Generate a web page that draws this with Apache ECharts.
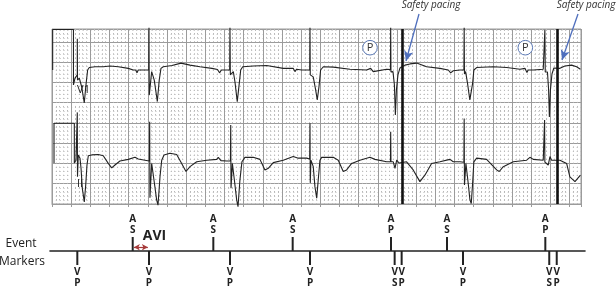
<!DOCTYPE html>
<html>
<head>
<meta charset="utf-8">
<script src="https://cdn.jsdelivr.net/npm/echarts@6/dist/echarts.min.js"></script>
<style>
html, body { margin: 0; padding: 0; background: #fff; }
#chart { width: 616px; height: 288px; }
</style>
</head>
<body>
<div id="chart"></div>
<script>
// time in seconds (25 mm/s paper), amplitude in mV relative to each lead's baseline
var v1Trace = [
  [0.007,0],[0.007,1.0],[0.224,1.0],[0.224,-0.37],[0.240,-0.20],[0.264,-0.12],[0.264,0.77],[0.266,-0.25],[0.285,-0.20],[0.310,-0.42],[0.337,-0.81],[0.352,-0.42],[0.372,0],[0.389,0.06],[0.449,0.08],[0.535,0.08],[0.605,0.10],[0.692,0.08],[0.796,0.04],[0.848,0],[0.873,0],[0.887,-0.07],[0.900,0],[0.970,0],
  [1.009,0],[1.012,1.04],[1.015,-0.62],[1.040,-0.04],[1.067,-0.25],[1.092,-0.66],[1.099,-0.78],[1.119,-0.25],[1.137,0.04],[1.161,0.08],[1.252,0.11],[1.346,0.17],[1.440,0.12],[1.544,0.08],[1.669,0.04],[1.727,0.01],[1.748,-0.07],[1.768,0],[1.823,0],
  [1.854,0],[1.857,1.04],[1.861,-0.12],[1.892,-0.04],[1.909,-0.29],[1.933,-0.78],[1.954,-0.33],[1.969,0],[1.990,0.08],[2.100,0.10],[2.240,0.11],[2.413,0.04],[2.517,0.04],[2.535,-0.04],[2.553,0.02],[2.605,0],[2.689,0],
  [2.692,1.04],[2.695,-0.12],[2.726,-0.17],[2.751,-0.49],[2.768,-0.74],[2.786,-0.41],[2.803,0],[2.831,0.08],[2.935,0.07],[3.109,0.02],[3.283,0],[3.325,0.04],[3.339,0.08],[3.352,-0.04],[3.370,0],[3.492,0.02],
  [3.532,0.01],[3.534,1.04],[3.537,-0.05],[3.558,-0.04],[3.573,-0.37],[3.583,-1.11],[3.594,-0.49],[3.610,-0.12],[3.631,0.05],[3.683,0.12],[3.735,0.15],[3.805,0.17],[3.909,0.08],[4.048,0.04],[4.135,0],[4.160,-0.07],[4.187,-0.02],[4.257,0],
  [4.298,0],[4.301,1.04],[4.304,-0.10],[4.316,-0.04],[4.336,-0.33],[4.360,-0.74],[4.371,-0.78],[4.389,-0.33],[4.402,0],[4.431,0.06],[4.604,0.08],[4.744,0.06],[4.883,0.02],[4.935,0.04],[4.956,-0.06],[4.969,0],[5.022,0],[5.126,0.02],
  [5.141,0.01],[5.143,0.99],[5.147,-0.05],[5.170,-0.05],[5.182,-0.49],[5.190,-1.16],[5.201,-0.49],[5.217,-0.10],[5.237,0.05],[5.300,0.04],[5.352,0.10],[5.422,0.12],[5.474,0.08],[5.514,0.02]
];

var leadIITrace = [
  [0.021,0],[0.021,0.98],[0.233,0.98],[0.233,0],[0.250,0.07],[0.264,1.25],[0.266,-0.34],[0.274,0.20],[0.292,0.12],[0.303,-0.13],[0.316,-0.62],[0.337,-0.96],[0.352,-0.54],[0.365,-0.05],[0.379,0.18],[0.414,0.20],[0.483,0.21],[0.535,0.18],[0.587,-0.01],[0.623,-0.12],[0.657,-0.05],[0.709,0.05],[0.796,0.09],[0.866,0.14],[0.900,0.10],[0.970,0.07],[1.016,0.05],
  [1.019,1.02],[1.022,-0.86],[1.040,-0.01],[1.064,-0.42],[1.092,-0.91],[1.106,-1.04],[1.127,-0.34],[1.145,0.07],[1.169,0.20],[1.231,0.24],[1.301,0.21],[1.353,-0.01],[1.398,-0.21],[1.440,-0.09],[1.510,0.03],[1.614,0.07],[1.718,0.09],[1.735,0.14],[1.763,0.06],[1.823,0.05],[1.862,0.05],
  [1.865,0.94],[1.868,-0.62],[1.882,-0.01],[1.903,-0.42],[1.927,-0.91],[1.941,-1.08],[1.961,-0.42],[1.982,0.03],[2.013,0.14],[2.100,0.14],[2.170,0.09],[2.222,-0.17],[2.257,-0.13],[2.309,0.01],[2.413,0.07],[2.517,0.16],[2.570,0.12],[2.657,0.12],[2.689,0.10],
  [2.692,0.98],[2.695,-0.49],[2.702,0.07],[2.726,-0.09],[2.744,-0.59],[2.762,-0.87],[2.778,-0.42],[2.796,0.07],[2.814,0.14],[2.935,0.14],[2.987,0.07],[3.039,-0.21],[3.074,-0.17],[3.127,-0.01],[3.213,0.07],[3.318,0.14],[3.335,0.17],[3.370,0.09],[3.492,0.03],[3.532,0.03],
  [3.534,0.77],[3.537,0.03],[3.561,0.03],[3.579,-0.13],[3.597,0.07],[3.621,0],[3.700,0.03],[3.769,-0.17],[3.839,-0.46],[3.891,-0.30],[3.961,-0.01],[4.048,0.03],[4.152,0.09],[4.187,0.03],[4.257,0.03],[4.298,0.02],
  [4.301,1.10],[4.304,-0.54],[4.319,-0.01],[4.343,-0.50],[4.361,-0.91],[4.375,-1.00],[4.389,-0.50],[4.402,0.03],[4.431,0.12],[4.535,0.09],[4.640,-0.17],[4.667,-0.21],[4.709,-0.09],[4.813,0.03],[4.953,0.07],[4.987,0.14],[5.022,0.09],[5.126,0.07],[5.138,0.07],
  [5.140,1.06],[5.143,0.02],[5.178,-0.05],[5.196,0.16],[5.213,0.07],[5.248,0.07],[5.300,0.07],[5.370,-0.01],[5.404,-0.34],[5.457,-0.46],[5.514,-0.30]
];

// safety pacing spikes (full height)
var safetyPaceTimes = [3.648, 5.266];

// event markers
var atrialTimes = [0.842, 1.683, 2.511, 3.537, 4.121, 5.147];
var atrialLabels = ['AS', 'AS', 'AS', 'AP', 'AS', 'AP'];
var ventricularTimes = [0.264, 1.012, 1.857, 2.692, 3.575, 3.648, 4.288, 5.188, 5.266];
var ventricularLabels = ['VP', 'VP', 'VP', 'VP', 'VS', 'VP', 'VP', 'VS', 'VP'];
var aviStart = 0.842, aviEnd = 1.012;

var gridColor = '#9b9b9b';
var dotColor = '#b8b8b8';
var traceColor = '#222';
var markerFont = 'Open Sans';

var eventData = [];
atrialTimes.forEach(function (t, i) {
  eventData.push({ value: [t, 1], label: { position: 'top', formatter: atrialLabels[i].split('').join('\n') } });
});
ventricularTimes.forEach(function (t, i) {
  eventData.push({ value: [t, -1], label: { position: 'bottom', formatter: ventricularLabels[i].split('').join('\n') } });
});

var chart = echarts.init(document.getElementById('chart'));
chart.setOption({
  animation: false,
  backgroundColor: '#fff',
  grid: [
    { left: 52, right: 35, top: 29, bottom: 84, show: true, borderColor: gridColor, borderWidth: 1 },
    { left: 50, right: 31, top: 237, height: 28 }
  ],
  xAxis: [
    {
      type: 'value', gridIndex: 0, min: 0, max: 5.52, interval: 0.2,
      axisLine: { onZero: false, lineStyle: { color: gridColor } },
      axisTick: { show: true, length: 3, lineStyle: { color: gridColor } },
      axisLabel: { show: false },
      splitLine: { show: true, lineStyle: { color: gridColor, width: 1 } },
      minorTick: { show: false, splitNumber: 5 },
      minorSplitLine: { show: true, lineStyle: { color: dotColor, width: 1, type: [1, 3.05] } }
    },
    {
      type: 'value', gridIndex: 1, min: -0.021, max: 5.561,
      axisLine: { show: true, onZero: true, lineStyle: { color: '#222', width: 1.6 } },
      axisTick: { show: false }, axisLabel: { show: false }, splitLine: { show: false }
    }
  ],
  yAxis: [
    {
      type: 'value', gridIndex: 0, min: 0, max: 4.32, interval: 0.5,
      axisLine: { show: false }, axisTick: { show: false }, axisLabel: { show: false },
      splitLine: { show: true, lineStyle: { color: gridColor, width: 1 } },
      minorTick: { show: false, splitNumber: 5 },
      minorSplitLine: { show: true, lineStyle: { color: dotColor, width: 1, type: [1, 2.83] } }
    },
    { type: 'value', gridIndex: 0, min: -1.012, max: 3.309, show: false },
    { type: 'value', gridIndex: 0, min: -3.309, max: 1.012, show: false },
    { type: 'value', gridIndex: 1, min: -1, max: 1, show: false }
  ],
  series: [
    {
      name: 'V1', type: 'line', xAxisIndex: 0, yAxisIndex: 2, data: v1Trace,
      symbol: 'none', clip: false, z: 4,
      lineStyle: { color: traceColor, width: 1.1 },
      markLine: {
        silent: true, symbol: ['none', 'arrow'], symbolSize: [7, 10],
        label: { show: false },
        lineStyle: { color: '#4f6fbd', width: 1.3, type: 'solid' },
        data: [
          [{ x: 419, y: 14 }, { x: 406, y: 61 }],
          [{ x: 578, y: 14 }, { x: 562, y: 60 }]
        ]
      }
    },
    {
      name: 'II', type: 'line', xAxisIndex: 0, yAxisIndex: 1, data: leadIITrace,
      symbol: 'none', clip: false, z: 4,
      lineStyle: { color: traceColor, width: 1.1 },
      markLine: {
        silent: true, symbol: 'none', label: { show: false },
        lineStyle: { color: '#111', width: 2.6, type: 'solid' },
        data: safetyPaceTimes.map(function (t) { return { xAxis: t }; })
      }
    },
    {
      name: 'Events', type: 'bar', xAxisIndex: 1, yAxisIndex: 3, data: eventData,
      barWidth: 2, itemStyle: { color: '#222' },
      label: {
        show: true, distance: 1, color: '#222', fontFamily: markerFont,
        fontWeight: 'bold', fontSize: 10, lineHeight: 11.5
      },
      markLine: {
        silent: true, symbol: ['arrow', 'arrow'], symbolSize: [5, 6],
        label: { show: false },
        lineStyle: { color: '#a63a3a', width: 1.2, type: 'solid' },
        data: [[{ coord: [aviStart + 0.012, 0.27] }, { coord: [aviEnd - 0.012, 0.27] }]]
      }
    }
  ],
  graphic: [
    { type: 'text', x: 83.5, y: 90, z: 10, style: { text: 'V1', fill: '#222', font: '11px "Open Sans"', align: 'center', verticalAlign: 'middle' } },
    { type: 'text', x: 80, y: 184, z: 10, style: { text: 'II', fill: '#222', font: '11px "Open Sans"', align: 'center', verticalAlign: 'middle' } },
    { type: 'circle', z: 10, shape: { cx: 370, cy: 47.7, r: 7.3 }, style: { fill: '#fff', stroke: '#5a78b4', lineWidth: 1 } },
    { type: 'text', x: 370, y: 48, z: 11, style: { text: 'P', fill: '#333', font: '11px "Open Sans"', align: 'center', verticalAlign: 'middle' } },
    { type: 'circle', z: 10, shape: { cx: 525.3, cy: 47.7, r: 7.3 }, style: { fill: '#fff', stroke: '#5a78b4', lineWidth: 1 } },
    { type: 'text', x: 525.3, y: 48, z: 11, style: { text: 'P', fill: '#333', font: '11px "Open Sans"', align: 'center', verticalAlign: 'middle' } },
    { type: 'text', x: 431, y: 5, z: 10, style: { text: 'Safety pacing', fill: '#333', font: 'italic 10px "Open Sans"', align: 'center', verticalAlign: 'middle' } },
    { type: 'text', x: 586, y: 5, z: 10, style: { text: 'Safety pacing', fill: '#333', font: 'italic 10px "Open Sans"', align: 'center', verticalAlign: 'middle' } },
    { type: 'text', x: 154.5, y: 236, z: 10, style: { text: 'AVI', fill: '#222', font: 'bold 14px "Open Sans"', align: 'center', verticalAlign: 'middle' } },
    { type: 'text', x: 21, y: 244, z: 10, style: { text: 'Event', fill: '#222', font: '12px "Open Sans"', align: 'center', verticalAlign: 'middle' } },
    { type: 'text', x: 22, y: 262, z: 10, style: { text: 'Markers', fill: '#222', font: '12px "Open Sans"', align: 'center', verticalAlign: 'middle' } }
  ]
});
</script>
</body>
</html>
